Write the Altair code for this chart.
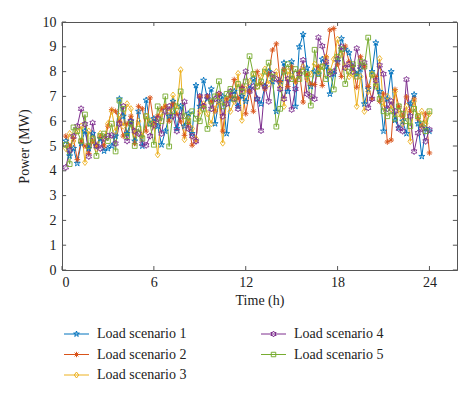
import altair as alt
import pandas as pd

# ---------------- data ----------------
STEP = 0.25
time_h = [round(STEP * i, 2) for i in range(1, 97)]

s1 = [5.2, 4.6, 4.9, 4.3, 5.1, 5.6, 4.9, 5.5, 5.0, 5.3, 4.8, 4.9,
      5.0, 5.4, 6.9, 6.2, 5.5, 6.0, 5.2, 6.4, 5.0, 6.85, 5.9, 6.1,
      5.8, 5.05, 5.6, 6.2, 6.8, 5.7, 6.6, 5.8, 6.3, 5.5, 7.44, 6.6,
      7.65, 6.9, 7.3, 5.9, 6.8, 7.0, 5.5, 6.9, 7.2, 6.6, 7.0, 6.8,
      7.3, 7.7, 6.9, 6.7, 7.4, 8.0, 7.6, 6.4, 7.6, 8.35, 7.2, 8.4,
      6.6, 9.0, 9.5, 8.14, 7.4, 8.0, 7.9, 8.5, 8.2, 7.1, 7.9, 8.4,
      9.33, 8.9, 8.76, 8.2, 7.9, 8.1, 6.7, 7.3, 8.0, 9.16, 7.2, 5.6,
      6.9, 8.0, 6.04, 5.73, 6.0, 5.5, 6.7, 7.07, 5.9, 4.58, 5.7, 5.6]

s2 = [5.4, 5.0, 5.3, 4.45, 5.2, 5.0, 4.7, 5.2, 5.0, 5.4, 5.0, 5.8,
      6.47, 6.4, 6.0, 5.4, 5.9, 6.2, 5.1, 6.6, 6.5, 5.6, 6.94, 5.9,
      6.2, 6.5, 6.6, 6.0, 6.7, 6.3, 6.0, 5.43, 5.9, 5.03, 5.2, 7.0,
      6.6, 7.0, 6.8, 6.4, 7.1, 5.6, 6.9, 7.0, 7.68, 6.9, 7.4, 6.3,
      7.2, 6.4, 8.0, 7.5, 7.3, 7.9, 8.87, 9.12, 7.6, 8.1, 7.4, 8.2,
      7.6, 8.0, 6.77, 7.9, 7.5, 7.48, 8.2, 7.44, 8.6, 9.68, 9.74, 8.3,
      7.8, 9.03, 8.4, 8.2, 7.37, 8.6, 8.2, 7.4, 6.9, 7.8, 6.8, 7.1,
      5.16, 5.24, 7.28, 6.6, 6.2, 6.98, 6.4, 6.9, 6.1, 5.8, 6.3, 4.72]

s3 = [4.9, 5.5, 5.2, 5.6, 5.8, 4.34, 5.6, 5.3, 4.9, 5.5, 5.3, 5.9,
      6.4, 5.6, 6.2, 5.8, 6.7, 6.5, 5.5, 6.0, 5.4, 6.2, 6.0, 5.8,
      4.65, 6.3, 6.6, 6.4, 7.05, 6.5, 8.07, 5.26, 6.1, 5.7, 5.3, 6.4,
      6.7, 6.3, 5.9, 6.5, 6.8, 5.12, 6.9, 6.4, 6.8, 7.92, 6.04, 7.3,
      7.6, 7.9, 7.4, 7.8, 8.1, 7.5, 7.7, 8.0, 7.4, 6.6, 8.0, 7.8,
      7.6, 7.9, 8.2, 7.7, 7.9, 8.3, 8.0, 8.2, 8.56, 8.0, 8.5, 9.3,
      8.7, 8.2, 7.8, 7.9, 6.6, 7.8, 6.4, 7.2, 7.9, 7.5, 8.52, 6.6,
      7.0, 6.5, 7.2, 6.3, 5.9, 6.6, 5.19, 6.8, 6.2, 6.4, 5.9, 6.3]

s4 = [4.14, 4.82, 5.39, 5.8, 6.5, 5.88, 4.58, 5.93, 5.0, 4.9, 5.3, 5.4,
      5.43, 5.1, 5.9, 6.6, 5.2, 6.0, 5.6, 5.5, 5.1, 5.03, 5.4, 5.84,
      6.1, 5.5, 6.4, 6.6, 6.2, 5.6, 6.2, 6.78, 5.7, 5.4, 5.19, 7.0,
      6.6, 7.0, 6.5, 6.9, 7.1, 6.2, 6.7, 7.2, 6.9, 6.5, 7.3, 8.0,
      7.2, 7.4, 6.9, 5.62, 7.4, 6.8, 7.9, 7.7, 7.3, 6.9, 7.7, 6.47,
      7.3, 7.9, 8.46, 7.1, 7.0, 6.9, 9.37, 9.03, 8.4, 7.9, 8.0, 8.5,
      9.0, 8.15, 8.3, 8.0, 8.93, 8.2, 8.36, 6.54, 6.9, 7.64, 8.25, 7.9,
      6.5, 6.8, 6.4, 5.7, 5.6, 7.68, 6.2, 4.78, 5.52, 5.7, 5.19, 5.66]

s5 = [5.05, 4.27, 5.75, 5.6, 5.2, 6.27, 5.0, 5.3, 4.6, 5.4, 5.5, 5.2,
      5.9, 4.78, 6.83, 6.5, 5.4, 5.9, 5.0, 5.7, 5.3, 6.2, 5.9, 5.05,
      6.6, 6.0, 7.0, 4.98, 6.4, 6.6, 7.2, 6.2, 6.0, 6.4, 6.1, 6.0,
      6.5, 5.69, 6.8, 7.0, 7.61, 6.6, 7.1, 7.3, 6.9, 7.5, 7.2, 7.6,
      8.62, 7.9, 7.4, 7.6, 8.0, 8.36, 7.8, 5.78, 6.5, 8.0, 8.3, 7.7,
      8.1, 7.7, 8.0, 7.9, 6.63, 8.88, 7.9, 8.2, 7.7, 8.0, 7.28, 8.6,
      8.9, 7.5, 8.0, 8.3, 7.8, 8.4, 8.2, 9.37, 7.88, 7.4, 6.9, 6.4,
      6.2, 6.4, 6.1, 6.6, 6.3, 6.0, 5.8, 6.5, 6.2, 5.9, 5.6, 6.4]

names = ["Load scenario 1", "Load scenario 2", "Load scenario 3",
         "Load scenario 4", "Load scenario 5"]
series = [s1, s2, s3, s4, s5]
colors = ["#0072BD", "#D95319", "#EDB120", "#7E2F8E", "#77AC30"]

x_ticks = [0, 6, 12, 18, 24]
y_ticks = list(range(0, 11))

# ---------------- marker shapes ----------------
PENT = [(0, -1), (0.225, -0.309), (0.951, -0.309), (0.363, 0.118), (0.588, 0.809),
        (0, 0.382), (-0.588, 0.809), (-0.363, 0.118), (-0.951, -0.309), (-0.225, -0.309)]
HEX = [(0, -1), (0.289, -0.5), (0.866, -0.5), (0.577, 0), (0.866, 0.5), (0.289, 0.5),
       (0, 1), (-0.289, 0.5), (-0.866, 0.5), (-0.577, 0), (-0.866, -0.5), (-0.289, -0.5)]
DIAM = [(0, -1), (0.75, 0), (0, 1), (-0.75, 0)]
SQ = [(-0.75, -0.75), (0.75, -0.75), (0.75, 0.75), (-0.75, 0.75)]


def poly(pts, s=1.0):
    return "M" + "L".join(f"{x*s:.3f},{y*s:.3f}" for x, y in pts) + "Z"


def ast(s=1.0):
    a = 0.7 * s
    return (f"M0,{-s:.3f}L0,{s:.3f}M{-s:.3f},0L{s:.3f},0"
            f"M{-a:.3f},{-a:.3f}L{a:.3f},{a:.3f}M{-a:.3f},{a:.3f}L{a:.3f},{-a:.3f}")


def shapes(s):
    return [poly(PENT, s), ast(s * 0.9), poly(DIAM, s), poly(HEX, s), poly(SQ, s)]


marker_paths = shapes(1.0)
legend_paths = ["M-2.5,0L2.5,0" + p for p in shapes(0.6)]

rows = []
for n, vals in zip(names, series):
    for t, v in zip(time_h, vals):
        rows.append({"t": t, "p": v, "s": n})
df = pd.DataFrame(rows)

color_scale = alt.Scale(domain=names, range=colors)
shape_scale = alt.Scale(domain=names, range=marker_paths)
leg_shape_scale = alt.Scale(domain=names, range=legend_paths)

XMAX = 25.8
xs = alt.Scale(domain=[0, XMAX], nice=False, zero=False)
ys = alt.Scale(domain=[0, 10], nice=False)

FONT = "Liberation Serif"

x_axis = alt.Axis(values=x_ticks, title="Time (h)", ticks=False,
                  labelPadding=5, titlePadding=4, grid=False)
y_axis = alt.Axis(values=y_ticks, title="Power (MW)", ticks=False,
                  labelOverlap=False, labelPadding=6, titlePadding=11,
                  grid=False)


def X(f):
    return alt.X(f, scale=xs, axis=x_axis)


def Y(f):
    return alt.Y(f, scale=ys, axis=y_axis)


lines = alt.Chart(df).mark_line(strokeWidth=1).encode(
    x=X("t:Q"), y=Y("p:Q"),
    color=alt.Color("s:N", scale=color_scale, legend=None),
    detail="s:N",
)

points = alt.Chart(df).mark_point(filled=False, size=40, strokeWidth=0.9, opacity=1).encode(
    x=X("t:Q"), y=Y("p:Q"),
    color=alt.Color("s:N", scale=color_scale, legend=None),
    shape=alt.Shape("s:N", scale=shape_scale, legend=None),
)

leg = alt.Legend(title=None, orient="none", legendX=7.5, legendY=305,
                 columns=2, columnPadding=72, rowPadding=6.5,
                 labelOffset=13.5, symbolSize=100, symbolStrokeWidth=1,
                 labelFont=FONT, labelFontSize=14, labelColor="#222",
                 padding=0)

legend_layer = alt.Chart(df).transform_filter("false").mark_point(
    filled=False, size=100, strokeWidth=1, opacity=1).encode(
    x=X("t:Q"), y=Y("p:Q"),
    color=alt.Color("s:N", scale=alt.Scale(domain=names, range=colors), legend=leg),
    shape=alt.Shape("s:N", scale=leg_shape_scale, legend=leg),
)

# inner tick marks on all four sides
TX = 0.16   # tick length in y units
TY = 0.27   # tick length in x units
bt = pd.DataFrame({"x": x_ticks, "y": [0] * 5, "y2": [TX] * 5})
tt = pd.DataFrame({"x": x_ticks, "y": [10] * 5, "y2": [10 - TX] * 5})
lt = pd.DataFrame({"y": y_ticks, "x": [0] * 11, "x2": [TY] * 11})
rt = pd.DataFrame({"y": y_ticks, "x": [XMAX] * 11, "x2": [XMAX - TY] * 11})

tick_style = dict(color="#555", strokeWidth=1)
bt_l = alt.Chart(bt).mark_rule(**tick_style).encode(x=X("x:Q"), y=Y("y:Q"), y2="y2:Q")
tt_l = alt.Chart(tt).mark_rule(**tick_style).encode(x=X("x:Q"), y=Y("y:Q"), y2="y2:Q")
lt_l = alt.Chart(lt).mark_rule(**tick_style).encode(y=Y("y:Q"), x=X("x:Q"), x2="x2:Q")
rt_l = alt.Chart(rt).mark_rule(**tick_style).encode(y=Y("y:Q"), x=X("x:Q"), x2="x2:Q")

chart = alt.layer(lines, points, legend_layer, bt_l, tt_l, lt_l, rt_l).resolve_scale(
    color="independent", shape="independent"
).properties(
    width=395, height=248,
    autosize=alt.AutoSizeParams(type="none"),
    padding={"left": 54, "top": 14, "right": 9, "bottom": 119},
).configure_view(
    stroke="#555", strokeWidth=1
).configure_axis(
    domainColor="#555", labelFont=FONT, labelFontSize=14, labelColor="#222",
    titleFont=FONT, titleFontSize=14, titleFontWeight="normal", titleColor="#222",
    labelOverlap=False,
)

chart.save("out.html", embed_options={"renderer": "svg", "actions": False})
